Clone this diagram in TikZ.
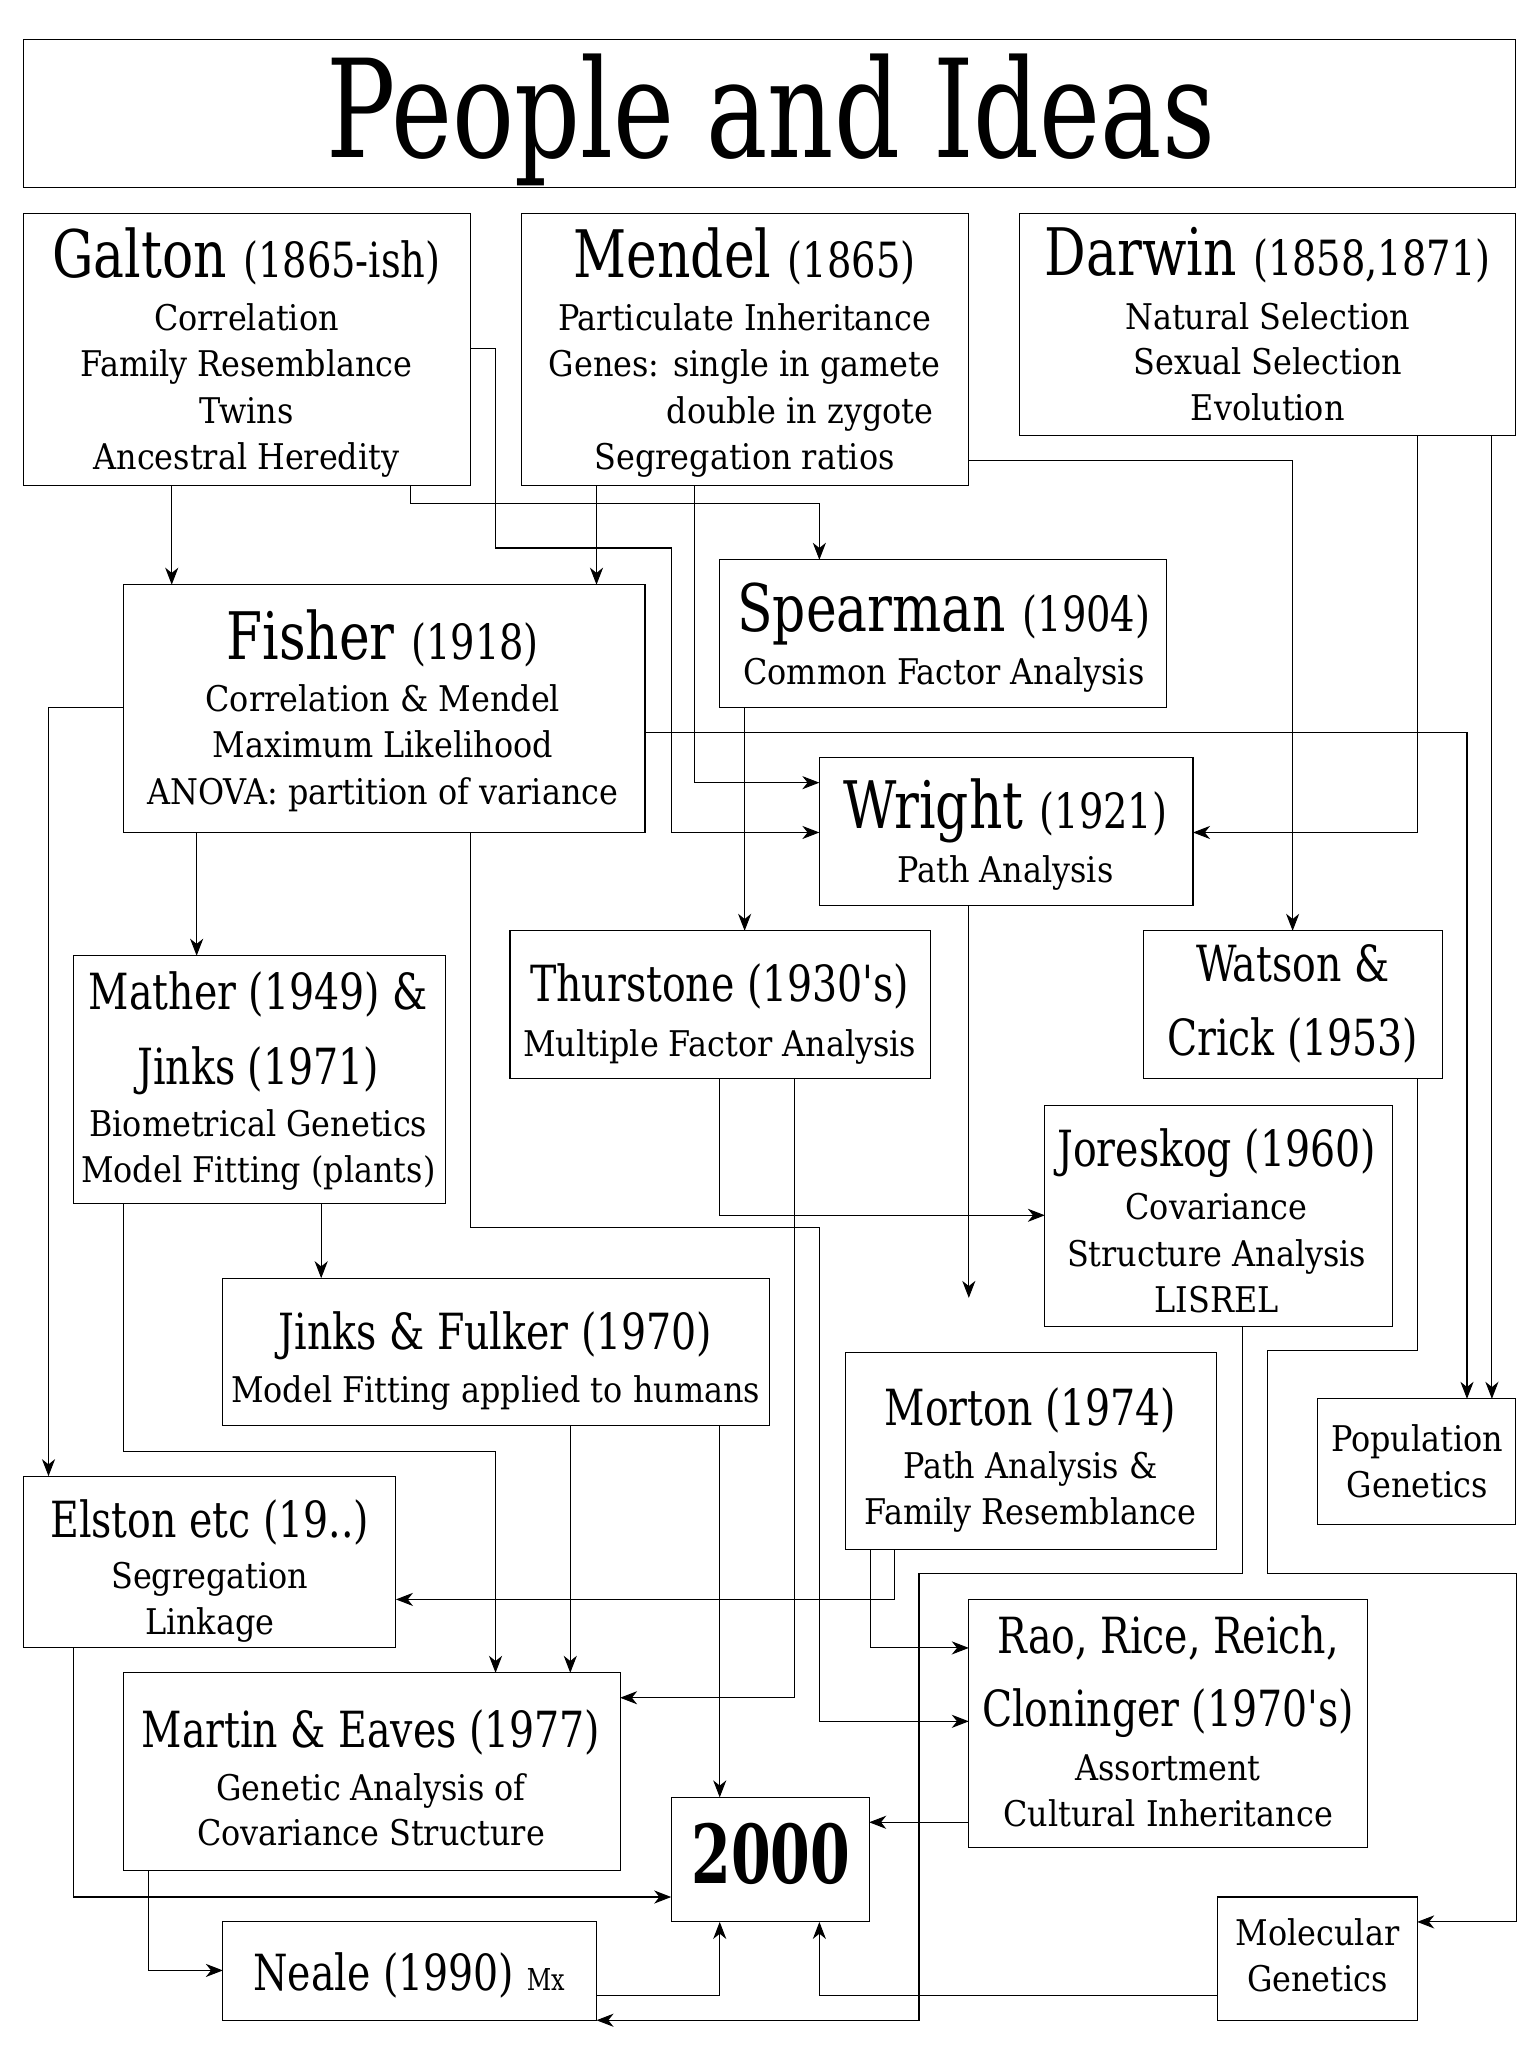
\documentclass[tikz,border=0pt]{standalone}
\usepackage{fontspec}
\setmainfont{DejaVu Serif Condensed}
\newfontfamily\nf{DejaVu Serif Condensed}[FakeStretch=0.88]
\newfontfamily\tf{DejaVu Serif Condensed}[FakeStretch=0.84]
\newfontfamily\zf{DejaVu Serif Condensed}[FakeStretch=0.78]
\usetikzlibrary{arrows.meta}
\newcommand\bx[5]{\node[box,minimum width={#4-#2},minimum height={#5-#3},anchor=north west] (#1) at (#2,#3) {};}
\newcommand\FT{\tf\fontsize{104}{110}\selectfont}
\newcommand\FN{\nf\fontsize{50}{56}\selectfont}
\newcommand\FY{\nf\fontsize{37}{42}\selectfont}
\newcommand\FM{\nf\fontsize{38}{44}\selectfont}
\newcommand\FB{\fontsize{27}{30}\selectfont}
\begin{document}
\begin{tikzpicture}[x=1pt,y=-1pt,
 box/.style={draw,line width=0.8pt,inner sep=0pt,outer sep=0pt},
 t/.style={anchor=base,inner sep=0pt},
 arr/.style={line width=0.8pt,-{Stealth[length=13pt,width=10pt,inset=4pt]}},
 ln/.style={line width=0.8pt}]
\useasboundingbox[fill=white] (0,0) rectangle (1166,1566);
% boxes
\bx{title}{18}{30}{1156}{143}
\bx{galton}{18}{163}{359}{370}
\bx{mendel}{398}{163}{739}{370}
\bx{darwin}{778}{163}{1156}{332}
\bx{spearman}{549}{427}{890}{540}
\bx{fisher}{94}{446}{492}{635}
\bx{wright}{625}{578}{910}{691}
\bx{mather}{56}{729}{340}{918}
\bx{thurstone}{389}{710}{710}{823}
\bx{watson}{872}{710}{1100}{823}
\bx{joreskog}{797}{843}{1062}{1012}
\bx{jf}{170}{975}{587}{1087}
\bx{morton}{645}{1032}{928}{1182}
\bx{popgen}{1005}{1067}{1156}{1163}
\bx{elston}{18}{1126}{302}{1257}
\bx{rao}{739}{1220}{1043}{1409}
\bx{martin}{94}{1276}{473}{1427}
\bx{y2000}{512}{1371}{663}{1466}
\bx{molecular}{929}{1447}{1081}{1541}
\bx{neale}{170}{1466}{455}{1541}
% texts
\node[t] (titleT) at (588,120) {\FT People and Ideas};
\node[t] (galtonT) at (188,212) {\FN Galton \FY(1865-ish)};
\node[t] (galton1) at (188,252) {\FB Correlation};
\node[t] (galton2) at (188,287) {\FB Family Resemblance};
\node[t] (galton3) at (188,323) {\FB Twins};
\node[t] (galton4) at (188,358) {\FB Ancestral Heredity};
\node[t] (mendelT) at (568,212) {\FN Mendel \FY(1865)};
\node[t] (mendel1) at (568,252) {\FB Particulate Inheritance};
\node[t] (mendel2) at (568,287) {\FB Genes: single in gamete};
\node[t,anchor=base east] (mendel3) at (712,323) {\FB double in zygote};
\node[t] (mendel4) at (568,358) {\FB Segregation ratios};
\node[t] (darwinT) at (967,210) {\FN Darwin \FY(1858,1871)};
\node[t] (darwin1) at (967,251) {\FB Natural Selection};
\node[t] (darwin2) at (967,286) {\FB Sexual Selection};
\node[t] (darwin3) at (967,321) {\FB Evolution};
\node[t] (spearmanT) at (720,482) {\FN Spearman \FY(1904)};
\node[t] (spearman1) at (720,522) {\FB Common Factor Analysis};
\node[t] (fisherT) at (292,503) {\FN Fisher \FY(1918)};
\node[t] (fisher1) at (292,543) {\FB Correlation \& Mendel};
\node[t] (fisher2) at (292,578) {\FB Maximum Likelihood};
\node[t] (fisher3) at (292,614) {\FB ANOVA: partition of variance};
\node[t] (wrightT) at (767,632) {\FN Wright \FY(1921)};
\node[t] (wright1) at (767,673) {\FB Path Analysis};
\node[t] (matherT) at (197,770) {\FM Mather (1949) \&};
\node[t] (mather2) at (197,827) {\FM Jinks (1971)};
\node[t] (mather3) at (197,867) {\FB Biometrical Genetics};
\node[t] (mather4) at (197,902) {\FB Model Fitting (plants)};
\node[t] (thurstoneT) at (549,764) {\FM Thurstone (1930's)};
\node[t] (thurstone1) at (549,806) {\FB Multiple Factor Analysis};
\node[t] (watsonT) at (986,749) {\FM Watson \&};
\node[t] (watson2) at (986,805) {\FM Crick (1953)};
\node[t] (joreskogT) at (928,890) {\FM Joreskog (1960)};
\node[t] (joreskog1) at (928,930) {\FB Covariance};
\node[t] (joreskog2) at (928,966) {\FB Structure Analysis};
\node[t] (joreskog3) at (928,1001) {\FB LISREL};
\node[t] (jfT) at (378,1029) {\FM Jinks \& Fulker (1970)};
\node[t] (jf1) at (378,1070) {\FB Model Fitting applied to humans};
\node[t] (mortonT) at (786,1087) {\FM Morton (1974)};
\node[t] (morton1) at (786,1128) {\FB Path Analysis \&};
\node[t] (morton2) at (786,1163) {\FB Family Resemblance};
\node[t] (popgen1) at (1081,1107) {\FB Population};
\node[t] (popgen2) at (1081,1142) {\FB Genetics};
\node[t] (elstonT) at (160,1173) {\FM Elston etc (19..)};
\node[t] (elston1) at (160,1212) {\FB Segregation};
\node[t] (elston2) at (160,1247) {\FB Linkage};
\node[t] (rao1) at (891,1261) {\FM Rao, Rice, Reich,};
\node[t] (rao2) at (891,1317) {\FM Cloninger (1970's)};
\node[t] (rao3) at (891,1358) {\FB Assortment};
\node[t] (rao4) at (891,1393) {\FB Cultural Inheritance};
\node[t] (martinT) at (283,1333) {\FM Martin \& Eaves (1977)};
\node[t] (martin1) at (283,1373) {\FB Genetic Analysis of};
\node[t] (martin2) at (283,1408) {\FB Covariance Structure};
\node[t] (y2000T) at (588,1437) {\zf\fontsize{62}{66}\selectfont\bfseries 2000};
\node[t] (nealeT) at (312,1518) {\FM Neale (1990) \fontsize{23}{26}\selectfont Mx};
\node[t] (molecular1) at (1005,1484) {\FB Molecular};
\node[t] (molecular2) at (1005,1519) {\FB Genetics};
% connectors
\draw[arr] ([xshift=113]galton.south west) -- ([xshift=37]fisher.north west);
\draw[arr] ([xshift=57]mendel.south west) -- ([xshift=361]fisher.north west);
\draw[arr] ([xshift=295]galton.south west) -- (313,384) -- (625,384) -- ([xshift=76]spearman.north west);
\draw[arr] ([yshift=-103]galton.north east) -- (378,266) -- (378,418) -- (512,418) -- (512,635) -- ([yshift=-57]wright.north west);
\draw[arr] ([xshift=132]mendel.south west) -- (530,597) -- ([yshift=-19]wright.north west);
\draw[arr] ([yshift=-188]mendel.north east) -- (986,351) -- ([xshift=114]watson.north west);
\draw[arr] ([xshift=303]darwin.south west) -- (1081,635) -- ([yshift=-57]wright.north east);
\draw[arr] ([xshift=360]darwin.south west) -- ([xshift=133]popgen.north west);
\draw[arr] ([yshift=-113]fisher.north east) -- (1119,559) -- ([xshift=114]popgen.north west);
\draw[arr] ([yshift=-94]fisher.north west) -- (37,540) -- ([xshift=19]elston.north west);
\draw[arr] ([xshift=56]fisher.south west) -- ([xshift=94]mather.north west);
\draw[arr] ([xshift=265]fisher.south west) -- (359,936) -- (625,936) -- (625,1313) -- ([yshift=-93]rao.north west);
\draw[arr] ([xshift=19]spearman.south west) -- ([xshift=179]thurstone.north west);
\coordinate (wrightEnd) at (739,990);
\draw[arr] ([xshift=114]wright.south west) -- (wrightEnd);
\draw[arr] ([xshift=160]thurstone.south west) -- (549,927) -- ([yshift=-84]joreskog.north west);
\draw[arr] ([xshift=217]thurstone.south west) -- (606,1295) -- ([yshift=-19]martin.north east);
\draw[arr] ([xshift=209]watson.south west) -- (1081,1030) -- (967,1030) -- (967,1200) -- (1157,1200) -- (1157,1466) -- ([yshift=-19]molecular.north east);
\draw[arr] ([xshift=38]mather.south west) -- (94,1107) -- (378,1107) -- ([xshift=284]martin.north west);
\draw[arr] ([xshift=189]mather.south west) -- ([xshift=75]jf.north west);
\draw[arr] ([xshift=265]jf.south west) -- ([xshift=341]martin.north west);
\draw[arr] ([xshift=379]jf.south west) -- ([xshift=37]y2000.north west);
\draw[arr] ([xshift=151]joreskog.south west) -- (948,1200) -- (701,1200) -- (701,1541) -- (neale.south east);
\draw[arr] ([xshift=19]morton.south west) -- (664,1257) -- ([yshift=-37]rao.north west);
\draw[arr] ([xshift=37]morton.south west) -- (682,1220) -- ([yshift=-94]elston.north east);
\draw[arr] ([yshift=19]rao.south west) -- ([yshift=-19]y2000.north east);
\draw[arr] ([xshift=38]elston.south west) -- (56,1447) -- ([yshift=19]y2000.south west);
\draw[arr] ([xshift=19]martin.south west) -- (113,1503) -- ([yshift=-37]neale.north west);
\draw[arr] ([yshift=19]neale.south east) -- (549,1522) -- ([xshift=37]y2000.south west);
\draw[arr] ([yshift=19]molecular.south west) -- (625,1522) -- ([xshift=113]y2000.south west);
\end{tikzpicture}
\end{document}
